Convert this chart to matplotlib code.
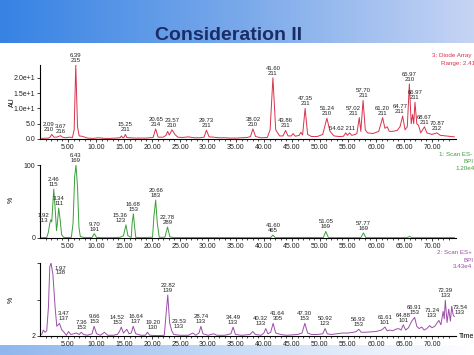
import numpy as np
import matplotlib
matplotlib.use("Agg")
import matplotlib.pyplot as plt
from matplotlib.colors import LinearSegmentedColormap

plt.rcParams["font.family"] = ["Liberation Sans", "DejaVu Sans"]

# --- data (time in min, response) ---
# 3: Diode Array (AU)
dad_trace = [
    (0.3, 0.2), (1.5, 0.3), (1.8, 0.6), (2.09, 1.5), (2.5, 0.6), (3.0, 0.6), (3.4, 0.9), (3.67, 1.1),
    (4.0, 0.6), (4.6, 0.4), (5.2, 0.6), (5.8, 0.5), (6.1, 3.0), (6.39, 24.19), (6.7, 4.0), (7.0, 1.0),
    (7.5, 0.9), (8.0, 0.6), (8.5, 0.3), (9.5, 0.2), (10.5, 0.4), (11.5, 0.2), (12.5, 0.2), (13.5, 0.3),
    (14.3, 0.4), (14.55, 1.0), (14.75, 0.4), (15.0, 0.5), (15.25, 1.5), (15.5, 0.5), (16.0, 0.4),
    (17.0, 0.3), (18.0, 0.3), (19.0, 0.3), (20.2, 0.5), (20.65, 3.3), (21.1, 0.6), (22.0, 0.6),
    (22.5, 1.2), (22.8, 2.5), (23.1, 1.3), (23.57, 3.0), (24.1, 1.5), (24.6, 0.6), (25.5, 0.5),
    (26.5, 0.7), (27.5, 0.4), (28.5, 0.4), (29.3, 0.6), (29.73, 2.9), (30.2, 0.7), (31.0, 0.6),
    (32.0, 0.4), (33.0, 0.4), (34.0, 0.3), (35.0, 0.3), (36.0, 0.4), (37.0, 0.5), (37.6, 0.8),
    (38.02, 3.3), (38.5, 0.8), (39.5, 0.4), (40.6, 0.5), (41.1, 3.0), (41.6, 20.0), (42.1, 3.0),
    (42.8, 1.0), (43.4, 1.0), (43.86, 2.8), (44.3, 1.0), (44.9, 1.0), (45.2, 1.8), (45.6, 0.9),
    (46.3, 1.2), (46.6, 2.2), (46.9, 1.3), (47.35, 10.0), (47.8, 1.5), (48.5, 0.8), (49.5, 0.8),
    (50.5, 1.5), (51.24, 6.8), (51.8, 2.5), (52.5, 1.0), (53.5, 0.8), (54.2, 0.9), (54.62, 2.0),
    (54.9, 1.2), (55.3, 2.0), (55.7, 1.2), (56.3, 1.5), (56.6, 1.8), (57.02, 7.0), (57.3, 2.5),
    (57.70, 12.6), (58.1, 3.0), (58.5, 2.0), (59.5, 1.8), (60.5, 2.5), (61.2, 7.0), (61.6, 3.5),
    (62.0, 4.0), (62.4, 2.5), (63.0, 2.5), (63.8, 2.8), (64.3, 4.0), (64.77, 7.5), (65.2, 3.0),
    (65.6, 4.0), (65.97, 18.0), (66.3, 5.0), (66.55, 8.0), (66.75, 5.0), (66.97, 12.0), (67.3, 5.0),
    (67.6, 4.5), (68.0, 2.0), (68.67, 4.0), (69.1, 2.0), (70.0, 1.5), (70.87, 2.0), (71.5, 1.2),
    (72.5, 1.0), (73.5, 0.8), (74.0, 0.7),
]
dad_labels = [(2.09, "210"), (3.67, "216"), (6.39, "215"), (15.25, "211"), (20.65, "214"),
              (23.57, "210"), (29.73, "211"), (38.02, "210"), (41.60, "211"), (43.86, "211"),
              (47.35, "211"), (51.24, "210"), (54.62, "211"), (57.02, "211"), (57.70, "211"),
              (61.20, "211"), (64.77, "211"), (65.97, "210"), (66.97, "211"), (68.67, "211"),
              (70.87, "212")]

# 1: Scan ES- BPI (%)
esn_trace = [
    (0.3, 0.5), (1.2, 0.5), (1.5, 8), (1.75, 20), (1.92, 25), (2.1, 22), (2.2, 35), (2.46, 67),
    (2.75, 35), (2.95, 10), (3.1, 20), (3.34, 41), (3.6, 25), (3.85, 5), (4.2, 1), (5.0, 0.5),
    (5.6, 1), (5.9, 20), (6.2, 85), (6.43, 100), (6.7, 70), (6.95, 15), (7.2, 2), (8.0, 0.5),
    (9.3, 0.8), (9.70, 6), (10.1, 0.8), (11.0, 0.5), (13.0, 0.5), (14.3, 1), (14.6, 2), (14.9, 3),
    (15.36, 18), (15.7, 3), (16.3, 0.8), (16.45, 20), (16.68, 33), (16.9, 15), (17.1, 1), (18.0, 0.5),
    (20.1, 1), (20.35, 30), (20.66, 52), (20.95, 20), (21.3, 1), (22.3, 1), (22.78, 15), (23.2, 1.5),
    (24.0, 0.5), (30.0, 0.6), (35.0, 0.5), (41.2, 0.5), (41.60, 4), (42.0, 0.5), (47.0, 0.8),
    (50.6, 0.5), (51.05, 9), (51.5, 0.5), (57.3, 0.5), (57.77, 7), (58.2, 0.5), (65.5, 0.5),
    (66.0, 2), (66.5, 0.5), (74.0, 0.5),
]
esn_labels = [(1.92, "113"), (2.46, "115"), (3.34, "111"), (6.43, "169"), (9.70, "191"),
              (15.36, "123"), (16.68, "153"), (20.66, "183"), (22.78, "289"), (41.60, "465"),
              (51.05, "169"), (57.77, "169")]

# 2: Scan ES+ BPI (%)
esp_trace = [
    (0.3, 4), (0.6, 10), (0.9, 7), (1.2, 9), (1.5, 40), (1.75, 95), (1.97, 100), (2.3, 85),
    (2.7, 40), (3.0, 15), (3.47, 19), (3.9, 10), (4.3, 7), (4.7, 3), (5.1, 8), (5.5, 4), (6.0, 5),
    (6.5, 6), (7.0, 4), (7.36, 7), (7.8, 4), (8.5, 3), (9.3, 5), (9.66, 15), (10.1, 5), (10.8, 3),
    (11.5, 7), (12.1, 3), (13.0, 3), (13.8, 4), (14.2, 8), (14.52, 14), (14.9, 6), (15.5, 11),
    (15.9, 5), (16.3, 6), (16.64, 15), (17.1, 5), (18.0, 3), (18.8, 3), (19.20, 7), (19.6, 3),
    (21.0, 2.5), (22.2, 3), (22.5, 30), (22.82, 57), (23.15, 20), (23.53, 9), (23.9, 4), (25.0, 3),
    (26.5, 3), (27.3, 6), (27.8, 3), (28.4, 6), (28.74, 15), (29.1, 5), (30.0, 3), (31.0, 5),
    (31.6, 3), (33.0, 3), (34.1, 5), (34.49, 14), (34.9, 4), (36.0, 3), (37.5, 4), (38.0, 8),
    (38.5, 4), (39.5, 3), (40.0, 6), (40.32, 12), (40.7, 5), (41.2, 7), (41.64, 19), (42.1, 6),
    (43.0, 4), (44.0, 3), (45.0, 3.5), (46.0, 4), (46.8, 6), (47.30, 19), (47.8, 6), (48.5, 4),
    (49.5, 4), (50.5, 5), (50.92, 12), (51.3, 5), (52.0, 4), (53.0, 5), (54.0, 6), (55.0, 6),
    (56.0, 7), (56.5, 8), (56.93, 11), (57.4, 7), (58.0, 7), (59.0, 7.5), (60.0, 8), (60.5, 9),
    (61.0, 10), (61.61, 14), (62.0, 9), (62.5, 10), (63.0, 9), (63.5, 11), (64.0, 12), (64.5, 10),
    (64.88, 17), (65.3, 10), (65.8, 13), (66.4, 22), (66.91, 27), (67.3, 15), (67.7, 12),
    (68.2, 14), (68.6, 10), (69.1, 12), (69.6, 16), (70.0, 13), (70.5, 15), (71.24, 23),
    (71.6, 17), (72.0, 35), (72.2, 25), (72.39, 50), (72.7, 20), (73.0, 38), (73.3, 22),
    (73.54, 42), (73.8, 30), (74.0, 28),
]
esp_labels = [(1.97, "138"), (3.47, "137"), (7.36, "153"), (9.66, "153"), (14.52, "153"),
              (16.64, "137"), (19.20, "130"), (22.82, "139"), (23.53, "133"), (28.74, "133"),
              (34.49, "133"), (40.32, "133"), (41.64, "305"), (47.30, "153"), (50.92, "123"),
              (56.93, "153"), (61.61, "101"), (64.88, "101"), (66.91, "153"), (71.24, "133"),
              (72.39, "133"), (73.54, "133")]

W, H = 474, 355
fig = plt.figure(figsize=(W / 100, H / 100), dpi=100)


def px_axes(x0, y0, x1, y1):
    return fig.add_axes([x0 / W, 1 - y1 / H, (x1 - x0) / W, (y1 - y0) / H])


# title banner
ban = px_axes(0, 0, W, 43)
ban.imshow(np.linspace(0, 1, 256)[None, :], aspect="auto",
           cmap=LinearSegmentedColormap.from_list("b", ["#3683e4", "#78a8ea", "#c6d4f4"]))
ban.axis("off")
fig.text(229 / W, 1 - 35 / H, "Consideration II", ha="center", va="center",
         fontsize=14, weight="bold", color="#1b2d66")

# bottom strip
bot = px_axes(0, 345, W, H)
bot.imshow(np.linspace(0, 1, 256)[None, :], aspect="auto",
           cmap=LinearSegmentedColormap.from_list("c", ["#8fb6ee", "#c8dcf6", "#ffffff"]))
bot.axis("off")


def panel(box, trace, labels, color, ylim, yticks, yticklabels, offsets):
    ax = px_axes(*box)
    t = np.array([p[0] for p in trace])
    v = np.array([p[1] for p in trace])
    ax.plot(t, v, color=color, lw=0.7)
    ax.set_xlim(0, 74.3)
    ax.set_ylim(*ylim)
    for s in ("top", "right"):
        ax.spines[s].set_visible(False)
    for s in ("left", "bottom"):
        ax.spines[s].set_linewidth(0.8)
    ax.set_xticks(np.arange(5, 71, 5))
    ax.set_xticklabels([f"{x:.2f}" for x in np.arange(5, 71, 5)])
    ax.set_xticks(np.arange(1, 74, 1), minor=True)
    ax.set_yticks(yticks)
    ax.set_yticklabels(yticklabels)
    ax.tick_params(labelsize=5, length=2.5, width=0.6, pad=1, colors="#222222")
    ax.tick_params(which="minor", length=1.5, width=0.5)
    for tm, m in labels:
        txt = f"{tm:.2f}\n{m}"
        dx, dy = offsets.get(tm, (0, 1.5))
        if tm == 54.62:
            txt = f"{tm:.2f} {m}"
        ax.annotate(txt, xy=(tm, np.interp(tm, t, v)), xytext=(dx, dy),
                    textcoords="offset points", ha="center", va="bottom",
                    fontsize=4.3, linespacing=1.0, color="#222222", annotation_clip=False)
    return ax


panel((40, 65, 456, 139), dad_trace, dad_labels, "#d8324c", (0, 24.19),
      [0, 5, 10, 15, 20], ["0.0", "5.0", "1.0e+1", "1.5e+1", "2.0e+1"],
      {2.09: (-2, 1.5), 54.62: (-3, 1.5), 57.02: (-4, 1.5), 64.77: (-2, 1.5)})
panel((40, 165, 456, 238), esn_trace, esn_labels, "#3aa03a", (0, 100),
      [0, 100], ["0", "100"],
      {1.92: (-5, -2), 15.36: (-4, 1.5)})
panel((40, 263, 456, 336), esp_trace, esp_labels, "#9b4fa8", (2, 100),
      [2, 51, 100], ["2", "", ""],
      {1.97: (7, -9), 3.47: (3, 1.5), 14.52: (-3, 1.5), 16.64: (2, 1.5), 19.20: (4, 1.5),
       23.53: (5, 1.5), 40.32: (-4, 1.5), 41.64: (3, 1.5), 71.24: (-5, 1.5), 72.39: (0, 1.5),
       73.54: (6, -6)})

# axis titles
fig.text(12 / W, 1 - 102 / H, "AU", rotation=90, fontsize=5, ha="center", va="center")
fig.text(11 / W, 1 - 200 / H, "%", rotation=90, fontsize=5, ha="center", va="center")
fig.text(11 / W, 1 - 300 / H, "%", rotation=90, fontsize=5, ha="center", va="center")
fig.text(459 / W, 1 - 337 / H, "Time", fontsize=5, va="center")

# trace descriptions at the right edge (partly cut off on the original slide)
for y, s, c in [(55, "3: Diode Array", "#d8324c"), (154, "1: Scan ES-", "#3aa03a"),
                (253, "2: Scan ES+", "#9b4fa8")]:
    fig.text(472 / W, 1 - y / H, s, fontsize=4.5, color=c, ha="right", va="center")
for x, y, s, c in [(441, 63, "Range: 2.419e+1", "#d8324c"),
                   (464, 161, "BPI", "#3aa03a"), (455, 168, "1.20e4", "#3aa03a"),
                   (464, 260, "BPI", "#9b4fa8"), (453, 267, "3.43e4", "#9b4fa8")]:
    fig.text(x / W, 1 - y / H, s, fontsize=4.5, color=c, ha="left", va="center")

fig.savefig("out.png", dpi=100)
